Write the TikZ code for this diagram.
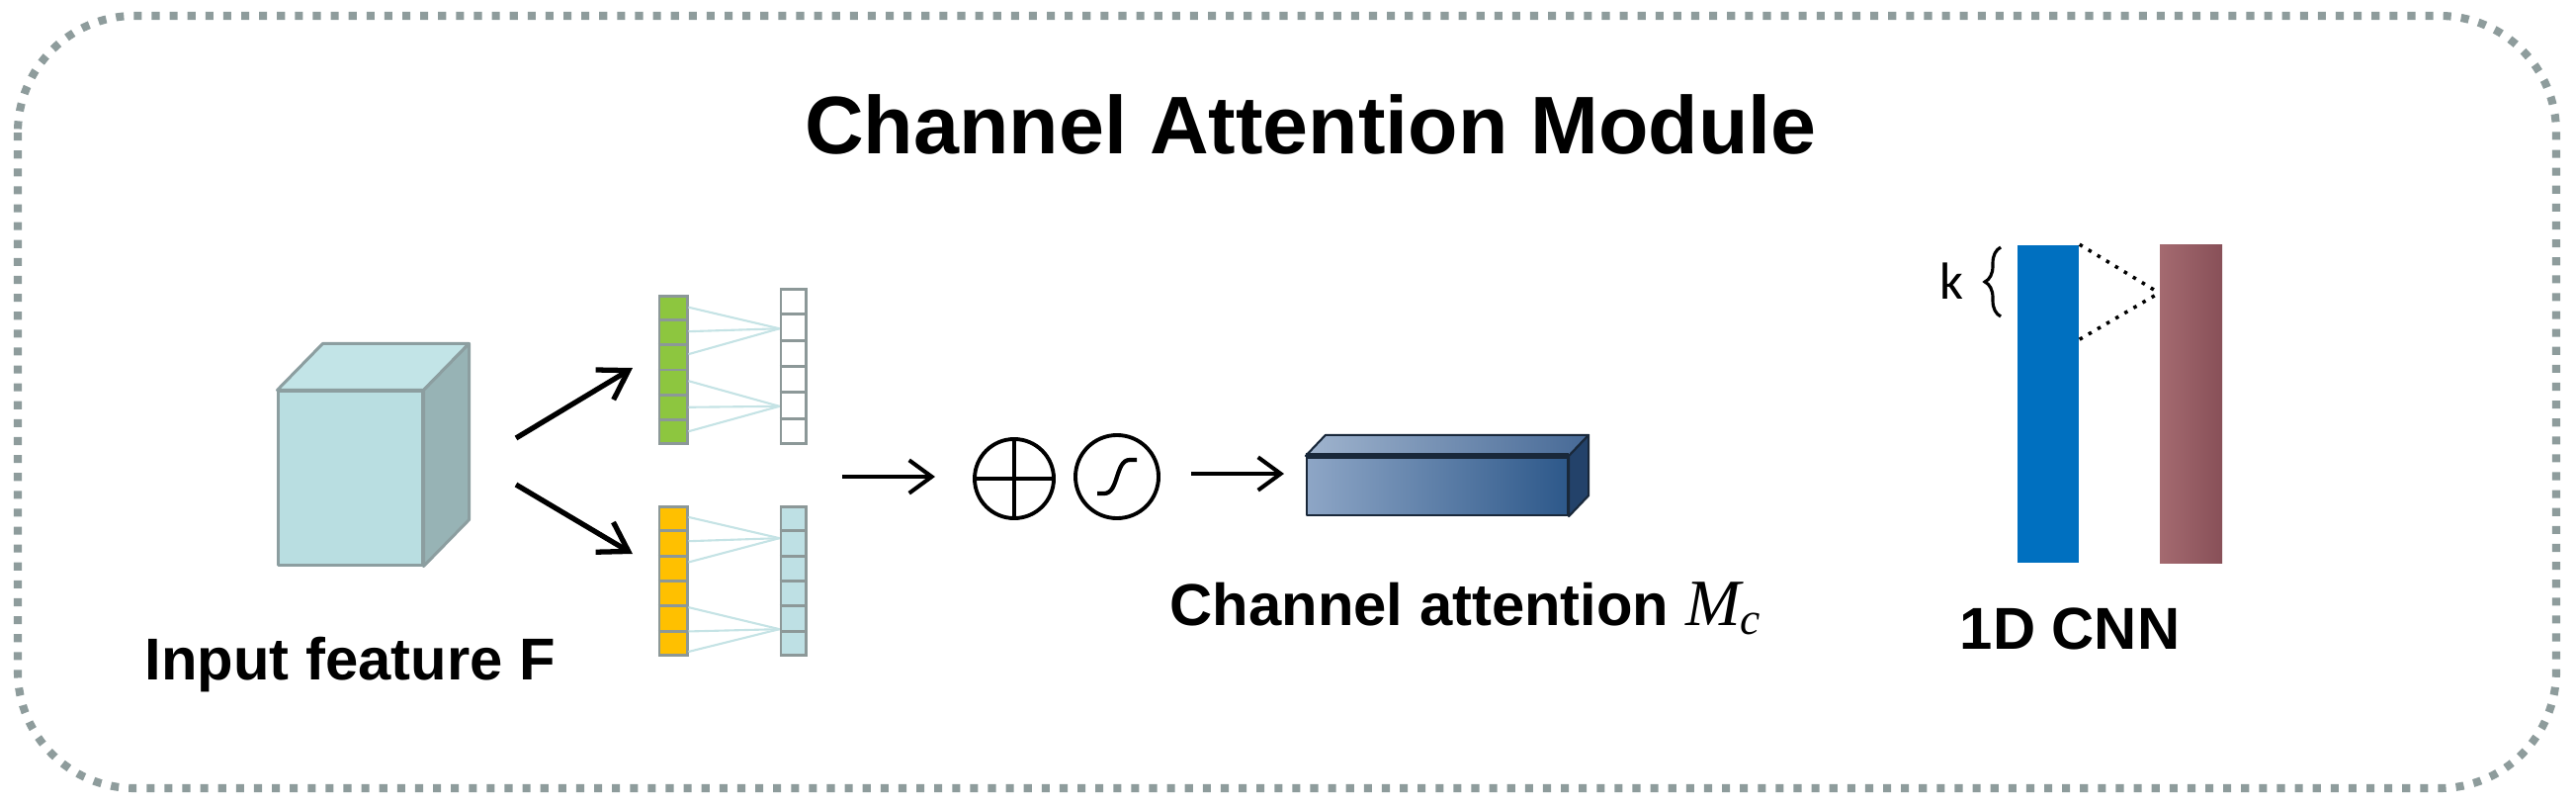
\documentclass[tikz,border=0pt]{standalone}
\usepackage{fontspec}
\setmainfont{Liberation Sans}
\newfontfamily\serifit{Liberation Serif}
\newfontfamily\kfont{Carlito}
\usetikzlibrary{arrows.meta,calc,decorations.pathreplacing}

\definecolor{bordergray}{RGB}{142,156,156}
\definecolor{cubefront}{RGB}{185,222,225}
\definecolor{cubetop}{RGB}{194,228,231}
\definecolor{cubeside}{RGB}{151,179,181}
\definecolor{cubeedge}{RGB}{140,158,160}
\definecolor{vgreen}{RGB}{141,198,63}
\definecolor{vorange}{RGB}{255,192,0}
\definecolor{vblue}{RGB}{190,224,228}
\definecolor{vedge}{RGB}{140,152,152}
\definecolor{fcline}{RGB}{197,227,229}
\definecolor{barL}{RGB}{142,166,198}
\definecolor{barR}{RGB}{45,88,138}
\definecolor{barTopL}{RGB}{160,180,206}
\definecolor{barTopR}{RGB}{70,105,150}
\definecolor{barSide}{RGB}{35,66,106}
\definecolor{barEdge}{RGB}{25,40,58}
\definecolor{cnnblue}{RGB}{0,112,192}
\definecolor{cnnbrL}{RGB}{164,106,112}
\definecolor{cnnbrR}{RGB}{136,80,88}

\begin{document}
\begin{tikzpicture}[x=0.01cm,y=-0.01cm,
  border/.style={draw=bordergray,line width=2.3pt,dash pattern=on 2.3pt off 2.85pt,rounded corners=1.18cm},
  title/.style={inner sep=0pt,anchor=base,font=\fontsize{23.5}{28}\selectfont\bfseries},
  lbl/.style={inner sep=0pt,font=\fontsize{17}{20}\selectfont\bfseries},
  cubeface/.style={draw=cubeedge,line width=0.85pt,line join=round},
  vec/.style={draw=vedge,line width=0.85pt,inner sep=0pt,minimum width=0.28cm},
  fc/.style={draw=fcline,line width=0.6pt},
  bigarrow/.style={line width=1.5pt,-{Straight Barb[length=8pt,width=10pt,line width=1.5pt]}},
  smallarrow/.style={line width=1.15pt,-{Straight Barb[length=6.5pt,width=9.5pt,line width=1.15pt]}},
  opcircle/.style={circle,draw,line width=1.1pt,inner sep=0pt},
  bartface/.style={draw=barEdge,line width=0.6pt,line join=round},
  cnnbar/.style={inner sep=0pt,minimum height=3.21cm}
]
\useasboundingbox (0,0) rectangle (2606,815);

% border
\draw[border] (18,16) rectangle (2586,797);

% title
\node[title] (ttl) at (1326,155) {Channel Attention Module};

% input cube
\node[cubeface,fill=cubefront,inner sep=0pt,minimum width=1.45cm,minimum height=1.75cm] (cube) at (354.5,483.5) {};
\path[cubeface,fill=cubetop] (cube.north west) -- ++(46,-47) -- ($(cube.north east)+(46,-47)$) -- (cube.north east) -- cycle;
\path[cubeface,fill=cubeside] (cube.north east) -- ++(46,-47) -- ($(cube.south east)+(46,-47)$) -- (cube.south east) -- cycle;
\node[lbl,anchor=base west] (inlbl) at (146,687) {Input feature F};

% arrows from cube
\coordinate (a1s) at (522,443);
\coordinate (a1e) at (640,372);
\coordinate (a2s) at (522,490);
\coordinate (a2e) at (640,560);
\draw[bigarrow] (a1s) -- (a1e);
\draw[bigarrow] (a2s) -- (a2e);

% vectors
\node[vec,fill=vgreen,minimum height=1.48cm] (g) at (681,374) {};
\node[vec,fill=white,minimum width=0.25cm,minimum height=1.55cm] (w) at (802.5,370.5) {};
\node[vec,fill=vorange,minimum height=1.49cm] (o) at (681,587.5) {};
\node[vec,fill=vblue,minimum width=0.25cm,minimum height=1.49cm] (lb) at (802.5,587.5) {};
\foreach \k in {1,...,5}{
  \draw[vedge,line width=0.85pt] ($(g.north west)!{\k/6}!(g.south west)$) -- ($(g.north east)!{\k/6}!(g.south east)$);
  \draw[vedge,line width=0.85pt] ($(w.north west)!{\k/6}!(w.south west)$) -- ($(w.north east)!{\k/6}!(w.south east)$);
  \draw[vedge,line width=0.85pt] ($(o.north west)!{\k/6}!(o.south west)$) -- ($(o.north east)!{\k/6}!(o.south east)$);
  \draw[vedge,line width=0.85pt] ($(lb.north west)!{\k/6}!(lb.south west)$) -- ($(lb.north east)!{\k/6}!(lb.south east)$);
}
\foreach \f in {0.081,0.243,0.395}{
  \draw[fc] ($(g.north east)!\f!(g.south east)$) -- ($(w.north west)!0.258!(w.south west)$);}
\foreach \f in {0.574,0.75,0.912}{
  \draw[fc] ($(g.north east)!\f!(g.south east)$) -- ($(w.north west)!0.755!(w.south west)$);}
\foreach \f in {0.075,0.235,0.375}{
  \draw[fc] ($(o.north east)!\f!(o.south east)$) -- ($(lb.north west)!0.215!(lb.south west)$);}
\foreach \f in {0.675,0.835,0.97}{
  \draw[fc] ($(o.north east)!\f!(o.south east)$) -- ($(lb.north west)!0.82!(lb.south west)$);}

% sum and sigmoid
\coordinate (b1s) at (852,482);
\coordinate (b1e) at (946,482);
\draw[smallarrow] (b1s) -- (b1e);
\node[opcircle,minimum size=0.8cm] (op) at (1026,484) {};
\draw[line width=1.1pt] (op.north) -- (op.south) (op.west) -- (op.east);
\node[opcircle,minimum size=0.84cm] (sg) at (1130,482) {};
\draw[line width=1.2pt] ($(sg.center)+(-20,17)$) -- ++(7,0) .. controls +(15,0) and +(-15,0) .. ++(26,-34) -- ++(7,0);
\coordinate (b2s) at (1205,479);
\coordinate (b2e) at (1299,479);
\draw[smallarrow] (b2s) -- (b2e);

% channel attention bar
\node[bartface,left color=barL,right color=barR,inner sep=0pt,minimum width=2.64cm,minimum height=0.59cm] (bar) at (1454,491.5) {};
\path[bartface,left color=barTopL,right color=barTopR] (bar.north west) -- ++(20,-21) -- ($(bar.north east)+(20,-21)$) -- (bar.north east) -- cycle;
\path[bartface,fill=barSide] (bar.north east) -- ++(20,-21) -- ($(bar.south east)+(20,-21)$) -- (bar.south east) -- cycle;
\draw[barEdge,line width=1.6pt] (bar.north west) -- (bar.north east);
\node[lbl,anchor=base west] (calbl) at (1183,632) {Channel attention {\mdseries\serifit\itshape\fontsize{19}{20}\selectfont M}{\mdseries\serifit\itshape\fontsize{13}{14}\selectfont\raisebox{-0.45ex}{c}}};

% 1D CNN
\node[cnnbar,fill=cnnblue,minimum width=0.62cm] (cb) at (2072,408.5) {};
\node[cnnbar,left color=cnnbrL,right color=cnnbrR,minimum width=0.63cm] (cr) at (2216.5,408.5) {};
\coordinate (tip) at ($(cr.north west)+(0,49)$);
\draw[dotted,line width=1pt] (cb.north east) -- (tip);
\draw[dotted,line width=1pt] ($(cb.north east)+(0,96)$) -- (tip);
\draw[decorate,decoration={brace,amplitude=0.16cm},line width=0.9pt] (2024,320) -- (2024,250);
\node[inner sep=0pt,anchor=base west,font=\kfont\fontsize{15}{17}\selectfont] (k) at (1962,302) {k};
\node[lbl,anchor=base east] (cnnlbl) at (2206,656) {1D CNN};
\end{tikzpicture}
\end{document}
